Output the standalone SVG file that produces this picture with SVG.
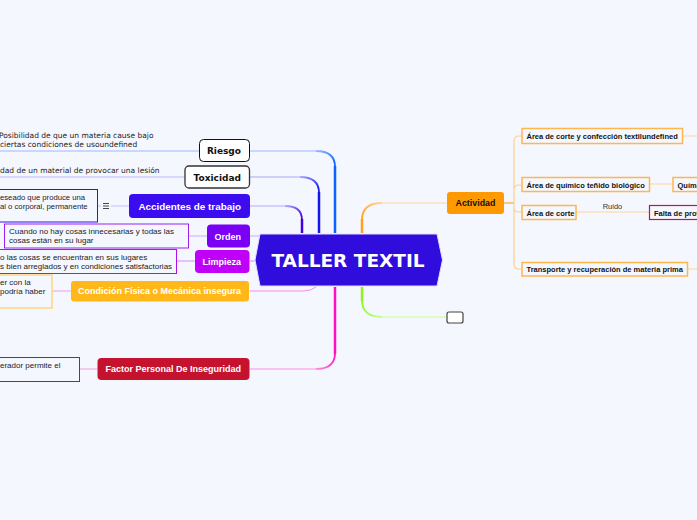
<svg xmlns="http://www.w3.org/2000/svg" width="697" height="520" viewBox="0 0 697 520">
<defs>
<linearGradient id="g1" gradientUnits="userSpaceOnUse" x1="316" y1="151" x2="335" y2="166"><stop offset="0" stop-color="#9db8ff"/><stop offset="1" stop-color="#0a62ff"/></linearGradient>
<linearGradient id="g2" gradientUnits="userSpaceOnUse" x1="300" y1="177" x2="319" y2="192"><stop offset="0" stop-color="#a9a8ff"/><stop offset="1" stop-color="#1414ee"/></linearGradient>
<linearGradient id="g3" gradientUnits="userSpaceOnUse" x1="285" y1="206" x2="302" y2="219"><stop offset="0" stop-color="#b8a8ff"/><stop offset="1" stop-color="#4000e0"/></linearGradient>
<linearGradient id="g4" gradientUnits="userSpaceOnUse" x1="316" y1="369" x2="335" y2="354"><stop offset="0" stop-color="#ff90e0"/><stop offset="1" stop-color="#ff10c0"/></linearGradient>
<linearGradient id="g5" gradientUnits="userSpaceOnUse" x1="382" y1="203" x2="362" y2="220"><stop offset="0" stop-color="#ffd59a"/><stop offset="1" stop-color="#ffa020"/></linearGradient>
<linearGradient id="g6" gradientUnits="userSpaceOnUse" x1="382" y1="317" x2="362" y2="300"><stop offset="0" stop-color="#c4ff8e"/><stop offset="1" stop-color="#8cf520"/></linearGradient>
</defs>
<style>
.c{fill:none}
.s{font:8px "Liberation Sans",Arial,sans-serif;fill:#222}
.t{font:7.700px "Liberation Sans",Arial,sans-serif;fill:#222}
.d{font:7.500px "DejaVu Sans",sans-serif;fill:#222}
.a{font:bold 7.500px "Liberation Sans",Arial,sans-serif;fill:#111}
.n{font:bold 9px "Liberation Sans",Arial,sans-serif;fill:#fff;text-anchor:end}
.w{font:bold 9px "DejaVu Sans",sans-serif;fill:#111;text-anchor:end}
.o{fill:#f5f7ff;stroke-width:1}
.p{fill:#f5f7ff;stroke:#ffb74d;stroke-width:1.5}
</style>
<rect width="697" height="520" fill="#f5f7ff"/>
<g id="connectors">
<path class="c" d="M0 151H199" stroke="#9db8ff"/>
<path class="c" d="M250 151H316" stroke="#9db8ff" stroke-width="1.2"/>
<path class="c" d="M316 151Q335 151 335 167" stroke="url(#g1)" stroke-width="1.8"/>
<path class="c" d="M335 166V233" stroke="#0a62ff" stroke-width="2.5"/>
<path class="c" d="M0 177H185" stroke="#b9b8ff" stroke-width="1.2"/>
<path class="c" d="M250 177H300" stroke="#a9a8ff" stroke-width="1.2"/>
<path class="c" d="M300 177Q319 177 319 193" stroke="url(#g2)" stroke-width="1.8"/>
<path class="c" d="M319 192V233" stroke="#1414ee" stroke-width="2.5"/>
<path class="c" d="M98 206H101M111 206H129" stroke="#c9bcff" stroke-width="1.2"/>
<path class="c" d="M250 206H285" stroke="#b8a8ff" stroke-width="1.2"/>
<path class="c" d="M285 206Q302 206 302 220" stroke="url(#g3)" stroke-width="1.8"/>
<path class="c" d="M302 219V233" stroke="#4000e0" stroke-width="2.5"/>
<path class="c" d="M189 236H207" stroke="#d2b5ff" stroke-width="1.2"/>
<path class="c" d="M250 236H260" stroke="#d2b5ff" stroke-width="1.2"/>
<path class="c" d="M177 261H195M250 261H256" stroke="#dd88ff"/>
<path class="c" d="M52 291H71" stroke="#f09bee"/>
<path class="c" d="M250 291H303Q311 291 316 287" stroke="#f48bf0"/>
<path class="c" d="M80 369H97" stroke="#f09bdd"/>
<path class="c" d="M250 369H316" stroke="#ff90e0" stroke-width="1.2"/>
<path class="c" d="M316 369Q335 369 335 353" stroke="url(#g4)" stroke-width="1.8"/>
<path class="c" d="M335 354V287" stroke="#ff10c0" stroke-width="2.5"/>
<path class="c" d="M447 203H382" stroke="#ffd59a" stroke-width="1.2"/>
<path class="c" d="M382 203Q362 203 362 220" stroke="url(#g5)" stroke-width="1.8"/>
<path class="c" d="M362 219V233" stroke="#ffa020" stroke-width="2.5"/>
<path class="c" d="M447 317H382" stroke="#c4ff8e" stroke-width="1.2"/>
<path class="c" d="M382 317Q362 317 362 300" stroke="url(#g6)" stroke-width="1.8"/>
<path class="c" d="M362 301V287" stroke="#8cf520" stroke-width="2.5"/>
<path d="M504 203H514" class="c" stroke="#ffa726" stroke-width="1.2"/>
<path class="c" d="M522 136H519Q514 136 514 141V264Q514 269 519 269H522M514 190Q514 185 519 185H522M514 208Q514 212 519 212H522" stroke="#ffcf8f" stroke-width="1.2"/>
<path class="c" d="M683 136H697M650 184H673M576 212H650M688 269H697" stroke="#ffd59a" stroke-width="1.2"/>
</g>
<g id="central"><path d="M255 260L260 234H437L442.500 260L437 286H260Z" fill="#300cdd" stroke="#e5dcff"/><text x="348" y="267" text-anchor="middle" style="font:bold 18.500px 'DejaVu Sans',sans-serif;fill:#fff">TALLER TEXTIL</text></g>
<g id="riesgo"><rect x="199.500" y="139.500" width="50" height="22" rx="4" fill="#fff" stroke="#111"/><text class="w" x="241" y="154">Riesgo</text>
<text class="d" x="-1" y="138">Posibilidad de que un materia cause bajo</text><text class="d" x="0" y="147">ciertas condiciones de usoundefined</text></g>
<g id="toxicidad"><rect x="185" y="166" width="64.500" height="22" rx="4" fill="#fff" stroke="#333" stroke-width="1.3"/><text class="w" x="241" y="181">Toxicidad</text>
<text class="d" x="0" y="173">dad de un material de provocar una lesión</text></g>
<g id="accidentes"><rect x="129" y="194" width="121" height="24" rx="4" fill="#3c0cf0"/><text class="n" style="font-size:9.900px" x="241" y="209.500">Accidentes de trabajo</text>
<rect class="o" x="-8" y="189.500" width="105.500" height="32.500" stroke="#3c0cf0"/><text class="t" x="0" y="200">eseado que produce una</text><text class="t" x="0" y="209">al o corporal, permanente</text>
<path d="M103 203.500h6M103 206h6M103 208.500h6" stroke="#333" stroke-width=".9"/></g>
<g id="orden"><rect x="207" y="224.500" width="43" height="23" rx="4" fill="#7a00f5"/><text class="n" x="241" y="239.500">Orden</text>
<rect class="o" x="4.500" y="224" width="184" height="24" stroke="#a020f0"/><text class="s" x="9" y="234">Cuando no hay cosas innecesarias y todas las</text><text class="s" x="9" y="243">cosas están en su lugar</text></g>
<g id="limpieza"><rect x="195" y="250" width="54.500" height="23" rx="4" fill="#c000f8"/><text class="n" x="241" y="264.500">Limpieza</text>
<rect class="o" x="-8" y="249.500" width="184.500" height="24" stroke="#b010f0"/><text class="s" x="0" y="260">o las cosas se encuentran en sus lugares</text><text class="s" x="0" y="269">s bien arreglados y en condiciones satisfactorias</text></g>
<g id="condicion"><rect x="71" y="281" width="178" height="20.500" rx="3" fill="#ffb817"/><text class="n" x="241" y="294">Condición Física o Mecánica insegura</text>
<rect x="-8" y="275" width="60" height="33" fill="#f5f7ff" stroke="#ffd67f" stroke-width="1.5"/><text class="s" x="0" y="285">er con la</text><text class="s" x="0" y="294">podría haber</text></g>
<g id="factor"><rect x="97.500" y="358" width="152" height="22" rx="4" fill="#c4122f"/><text class="n" x="241" y="372">Factor Personal De Inseguridad</text>
<rect class="o" x="-8" y="357.500" width="87.500" height="24" stroke="#c4122f"/><text class="s" x="0" y="368">erador permite el</text></g>
<g id="actividad"><rect x="447" y="192" width="57" height="22" rx="3" fill="#ff9900"/><text x="475.500" y="206" text-anchor="middle" style="font:bold 8.900px 'Liberation Sans',sans-serif;fill:#111">Actividad</text></g>
<g id="empty"><rect x="447" y="312" width="16" height="11" rx="2" fill="#fff" stroke="#444" stroke-width="1.2"/></g>
<g id="area1"><rect class="p" x="522" y="128.500" width="160.500" height="15"/><text class="a" x="526.500" y="139">Área de corte y confección textilundefined</text></g>
<g id="area2"><rect class="p" x="522" y="177.500" width="127.500" height="14"/><text class="a" x="526.500" y="187.500">Área de químico teñido biológico</text></g>
<g id="quimi"><rect class="p" x="673" y="177.500" width="30" height="14"/><text class="a" x="677.500" y="187.500">Quími</text></g>
<g id="area3"><rect class="p" x="522" y="205.500" width="54" height="14"/><text class="a" x="526.500" y="215.500">Área de corte</text></g>
<text id="ruido" x="612.500" y="208.500" text-anchor="middle" style="font:7.500px 'Liberation Sans',sans-serif;fill:#333">Ruido</text>
<g id="falta"><rect x="649.500" y="205.500" width="55" height="14" fill="#f5f7ff" stroke="#b01c50" stroke-width="1.2"/><text class="a" x="654" y="215.500">Falta de prot</text></g>
<g id="area4"><rect class="p" x="522" y="262.500" width="165.500" height="13.500"/><text class="a" x="526.500" y="272">Transporte y recuperación de materia prima</text></g>
</svg>
